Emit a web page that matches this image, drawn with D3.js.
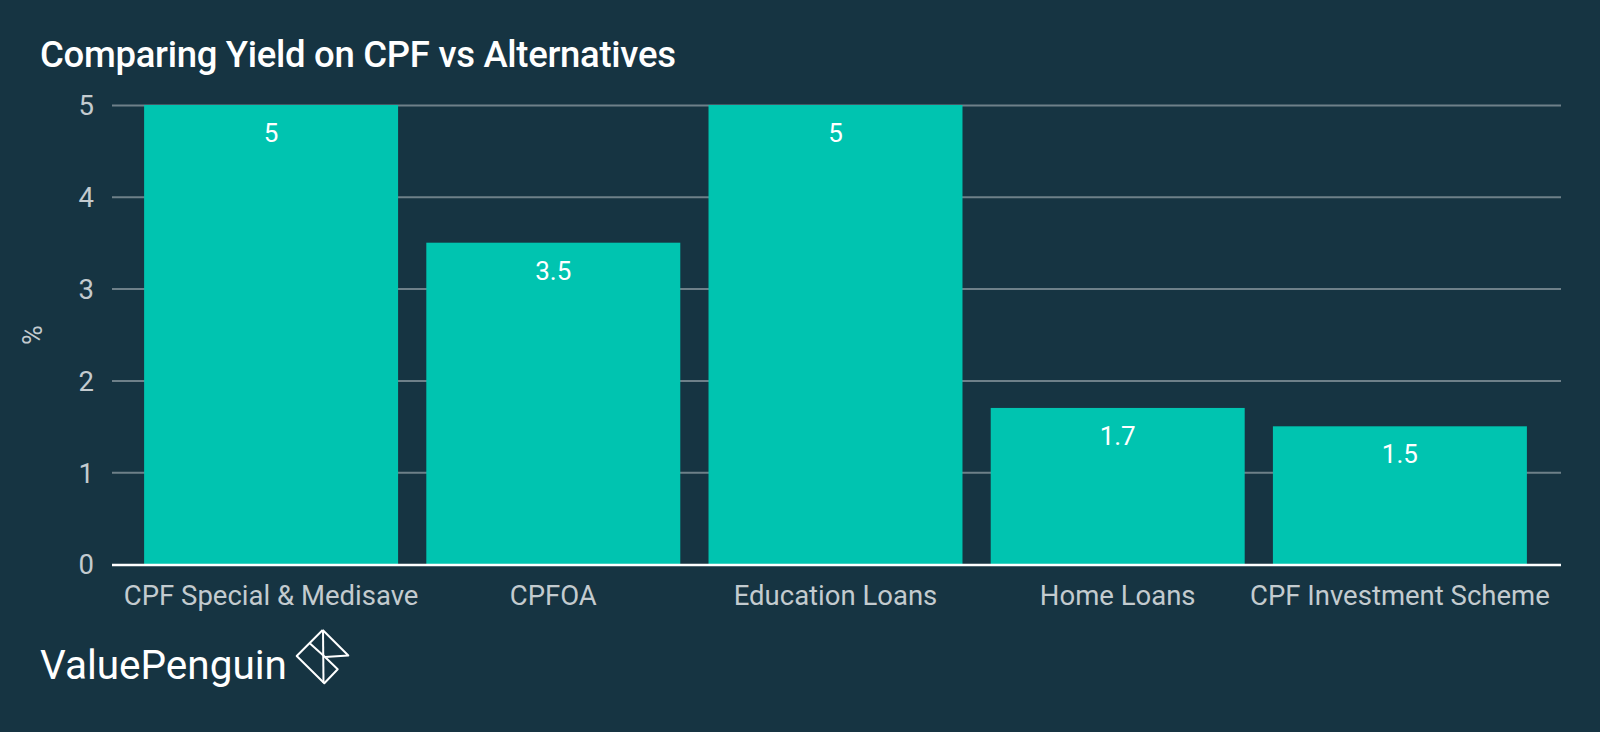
<!DOCTYPE html>
<html>
<head>
<meta charset="utf-8">
<script src="https://cdn.jsdelivr.net/npm/d3@7"></script>
<style>
  html, body { margin: 0; padding: 0; background: #163442; }
  svg { display: block; }
  text { font-family: Roboto, "Open Sans", sans-serif; }
</style>
</head>
<body>
<svg id="chart" width="1600" height="732"></svg>
<script>
const categories = ["CPF Special & Medisave", "CPFOA", "Education Loans", "Home Loans", "CPF Investment Scheme"];
const values = [5, 3.5, 5, 1.7, 1.5];
const yTicks = [0, 1, 2, 3, 4, 5];
const titleText = "Comparing Yield on CPF vs Alternatives";
const yAxisTitle = "%";
const brand = "ValuePenguin";

const W = 1600, H = 732;
const bg = "#163442", barColor = "#00c4b0", gridColor = "#6e8089", labelColor = "#c3cbcf";
const svg = d3.select("#chart");
svg.append("rect").attr("width", W).attr("height", H).attr("fill", bg);

const plotLeft = 112, plotRight = 1561;
const x = d3.scaleBand().domain(categories).range([130, 1541]).paddingInner(0.1).paddingOuter(0.05);
const y = d3.scaleLinear().domain([0, 5]).range([564, 105]);

// gridlines
const yAxis = d3.axisLeft(y).tickValues(yTicks).tickSize(-(plotRight - plotLeft)).tickPadding(18).tickFormat(d3.format("d"));
const gy = svg.append("g").attr("transform", `translate(${plotLeft},0)`).call(yAxis);
gy.select(".domain").remove();
gy.selectAll(".tick line").attr("stroke", gridColor).attr("stroke-width", 2);
gy.selectAll(".tick text").attr("fill", labelColor).attr("font-size", 27.5).attr("font-family", "Roboto").attr("dy", "0.36em");
gy.selectAll(".tick").filter(d => d === 0).select("line").remove();

// bars
svg.append("g").selectAll("rect").data(values).join("rect")
  .attr("x", (d, i) => x(categories[i]))
  .attr("y", d => y(d))
  .attr("width", x.bandwidth())
  .attr("height", d => y(0) - y(d))
  .attr("fill", barColor);

// baseline
svg.append("line").attr("x1", plotLeft).attr("x2", plotRight).attr("y1", y(0) + 1).attr("y2", y(0) + 1)
  .attr("stroke", "#ffffff").attr("stroke-width", 2.5);

// value labels
svg.append("g").selectAll("text").data(values).join("text")
  .attr("x", (d, i) => x(categories[i]) + x.bandwidth() / 2)
  .attr("y", d => y(d) + 37)
  .attr("text-anchor", "middle")
  .attr("fill", "#ffffff")
  .attr("font-size", 26)
  .text(d => d);

// x axis labels
const xAxis = d3.axisBottom(x).tickSize(0).tickPadding(0);
const gx = svg.append("g").attr("transform", `translate(0,${y(0)})`).call(xAxis);
gx.select(".domain").remove();
gx.selectAll(".tick text").attr("fill", labelColor).attr("font-size", 27.5).attr("font-family", "Roboto")
  .attr("dy", 0).attr("y", 41);

// y axis title
svg.append("text").attr("transform", "translate(42,335) rotate(-90)")
  .attr("text-anchor", "middle").attr("fill", labelColor).attr("font-size", 27).text(yAxisTitle);

// title
svg.append("text").attr("x", 40).attr("y", 67).attr("fill", "#ffffff")
  .attr("font-size", 36.5).attr("font-weight", 500).attr("letter-spacing", -0.3).text(titleText);

// brand
svg.append("text").attr("x", 40).attr("y", 679).attr("fill", "#ffffff")
  .attr("font-size", 40.5).attr("font-weight", 400).text(brand);

// logo icon
const logo = svg.append("g").attr("transform", "translate(285,620)")
  .attr("fill", "none").attr("stroke", "#ffffff").attr("stroke-width", 2).attr("stroke-linejoin", "round");
const T = [37.7, 10], L = [11.7, 36], B = [39.3, 63.3], R = [63.3, 35.5], M = [40, 37], LR = [52.7, 49.3];
const line = d3.line();
logo.append("path").attr("d", line([T, L, B, LR, M, R, T]));
logo.append("path").attr("d", line([[38, 10], [38.5, 63]]));
logo.append("path").attr("d", line([[25, 23.5], [40, 37]]));
</script>
</body>
</html>
